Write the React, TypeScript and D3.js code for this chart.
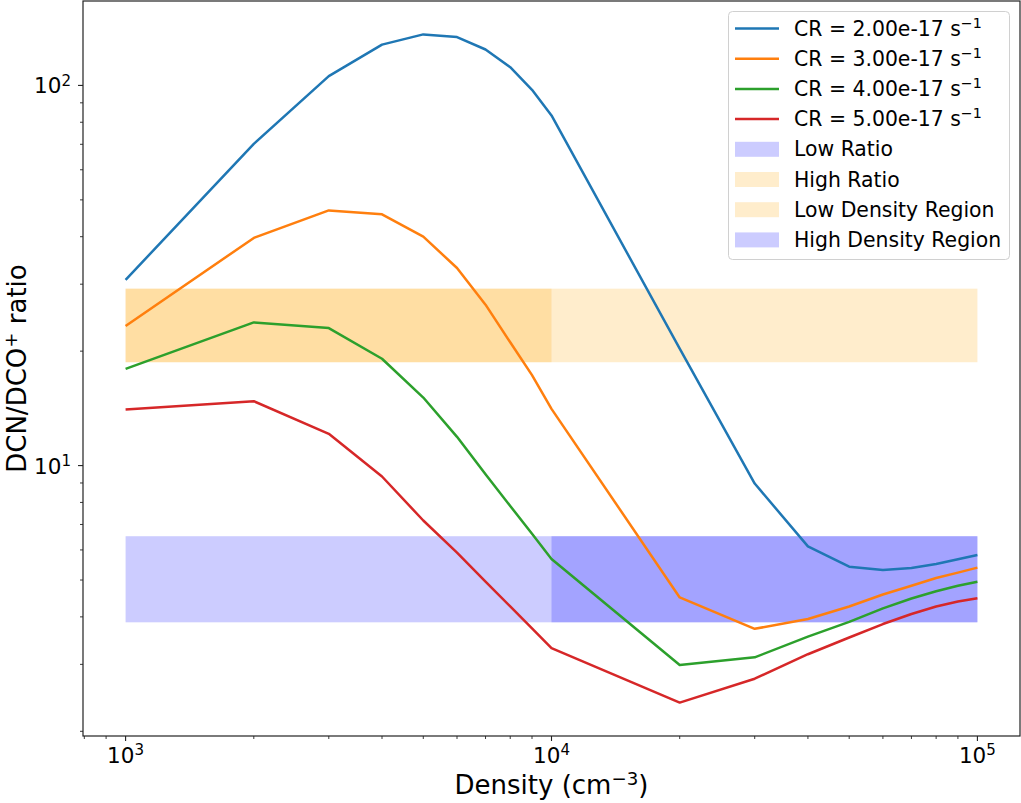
import React, { useEffect, useRef } from "react";
import * as d3 from "d3";

// densities (cm^-3)
const densities = [
  1000, 2000, 3000, 4000, 5000, 6000, 7000, 8000, 9000,
  10000, 20000, 30000, 40000, 50000, 60000, 70000, 80000, 90000, 100000,
];

const cr2 = [30.8, 70.2, 105.8, 128, 136.2, 134, 124.3, 111.7, 97.4, 83.4, 20.3, 8.97, 6.13, 5.42, 5.31, 5.38, 5.51, 5.67, 5.82];
const cr3 = [23.3, 39.7, 46.9, 45.8, 40.0, 33.1, 26.5, 21.1, 17.3, 14.1, 4.5, 3.72, 3.95, 4.26, 4.58, 4.83, 5.06, 5.23, 5.39];
const cr4 = [17.97, 23.8, 23.0, 19.1, 15.1, 11.9, 9.49, 7.83, 6.62, 5.68, 2.99, 3.13, 3.55, 3.88, 4.21, 4.47, 4.67, 4.83, 4.95];
const cr5 = [14.04, 14.77, 12.12, 9.36, 7.17, 5.9, 4.95, 4.26, 3.73, 3.31, 2.38, 2.75, 3.19, 3.53, 3.83, 4.07, 4.26, 4.39, 4.48];

const seriesLabels = ["2.00e-17", "3.00e-17", "4.00e-17", "5.00e-17"];
const seriesValues = [cr2, cr3, cr4, cr5];
const seriesColors = ["#1f77b4", "#ff7f0e", "#2ca02c", "#d62728"];

// ratio bands
const lowRatio = [3.87, 6.52];
const highRatio = [18.7, 29.2];
const lowDensityRange = [1000, 10000];
const highDensityRange = [10000, 100000];

const bandLabels = ["Low Ratio", "High Ratio", "Low Density Region", "High Density Region"];
const bandColors = ["blue", "orange", "orange", "blue"];

const W = 1021;
const H = 803;
const FONT = "DejaVu Sans, sans-serif";

const App: React.FC = () => {
  const svgRef = useRef<SVGSVGElement | null>(null);

  useEffect(() => {
    if (!svgRef.current) return;
    const svg = d3.select(svgRef.current);
    svg.selectAll("*").remove();

    const plot = { left: 83, right: 1020, top: 1, bottom: 736 };

    // matplotlib style 5% margins, in log space
    const pad = (lo: number, hi: number) => {
      const a = Math.log10(lo);
      const b = Math.log10(hi);
      const m = (b - a) * 0.05;
      return [Math.pow(10, a - m), Math.pow(10, b + m)];
    };
    const allVals = seriesValues.flat();
    const x = d3
      .scaleLog()
      .domain(pad(d3.min(densities)!, d3.max(densities)!))
      .range([plot.left, plot.right]);
    const y = d3
      .scaleLog()
      .domain(pad(d3.min(allVals)!, d3.max(allVals)!))
      .range([plot.bottom, plot.top]);

    const g = svg.append("g");

    // bands (drawn under the lines)
    const drawBand = (xr: number[], yr: number[], color: string) => {
      g.append("rect")
        .attr("x", x(xr[0]))
        .attr("y", y(yr[1]))
        .attr("width", x(xr[1]) - x(xr[0]))
        .attr("height", y(yr[0]) - y(yr[1]))
        .attr("fill", color)
        .attr("fill-opacity", 0.2);
    };
    const fullRange = [densities[0], densities[densities.length - 1]];
    drawBand(fullRange, lowRatio, "blue");
    drawBand(fullRange, highRatio, "orange");
    drawBand(lowDensityRange, highRatio, "orange");
    drawBand(highDensityRange, lowRatio, "blue");

    // lines
    const line = d3
      .line<number>()
      .x((_, i) => x(densities[i]))
      .y((d) => y(d));
    seriesValues.forEach((vals, i) => {
      g.append("path")
        .datum(vals)
        .attr("d", line)
        .attr("fill", "none")
        .attr("stroke", seriesColors[i])
        .attr("stroke-width", 2.5)
        .attr("stroke-linejoin", "round");
    });

    // spines
    g.append("rect")
      .attr("x", plot.left)
      .attr("y", plot.top)
      .attr("width", plot.right - plot.left)
      .attr("height", plot.bottom - plot.top)
      .attr("fill", "none")
      .attr("stroke", "#222")
      .attr("stroke-width", 1.2);

    const tickFs = 21.5;
    const supText = (sel: d3.Selection<SVGTextElement, unknown, null, undefined>, base: string, exp: string, fs: number) => {
      sel.append("tspan").text(base);
      sel
        .append("tspan")
        .attr("font-size", fs * 0.7)
        .attr("dy", -fs * 0.36)
        .text(exp);
    };

    // x ticks
    const xTicks = x.ticks();
    xTicks.forEach((t) => {
      const px = x(t);
      if (px < plot.left - 0.5 || px > plot.right + 0.5) return;
      const major = Math.abs(Math.log10(t) - Math.round(Math.log10(t))) < 1e-9;
      g.append("line")
        .attr("x1", px)
        .attr("x2", px)
        .attr("y1", plot.bottom)
        .attr("y2", plot.bottom + (major ? 5 : 3))
        .attr("stroke", "#222")
        .attr("stroke-width", major ? 1.1 : 0.9);
      if (major) {
        const txt = g
          .append("text")
          .attr("x", px)
          .attr("y", 763)
          .attr("text-anchor", "middle")
          .attr("font-family", FONT)
          .attr("font-size", tickFs)
          .attr("fill", "#000");
        supText(txt, "10", String(Math.round(Math.log10(t))), tickFs);
      }
    });

    // y ticks
    const yTicks = y.ticks();
    yTicks.forEach((t) => {
      const py = y(t);
      if (py < plot.top - 0.5 || py > plot.bottom + 0.5) return;
      const major = Math.abs(Math.log10(t) - Math.round(Math.log10(t))) < 1e-9;
      g.append("line")
        .attr("x1", plot.left)
        .attr("x2", plot.left - (major ? 5 : 3))
        .attr("y1", py)
        .attr("y2", py)
        .attr("stroke", "#222")
        .attr("stroke-width", major ? 1.1 : 0.9);
      if (major) {
        const txt = g
          .append("text")
          .attr("x", 71)
          .attr("y", py + 8)
          .attr("text-anchor", "end")
          .attr("font-family", FONT)
          .attr("font-size", tickFs)
          .attr("fill", "#000");
        supText(txt, "10", String(Math.round(Math.log10(t))), tickFs);
      }
    });

    // axis labels
    const labelFs = 26;
    const xl = g
      .append("text")
      .attr("x", (plot.left + plot.right) / 2)
      .attr("y", 794)
      .attr("text-anchor", "middle")
      .attr("font-family", FONT)
      .attr("font-size", labelFs);
    xl.append("tspan").text("Density (cm");
    xl.append("tspan").attr("font-size", labelFs * 0.7).attr("dy", -labelFs * 0.36).text("\u22123");
    xl.append("tspan").attr("dy", labelFs * 0.36).text(")");

    const yl = g
      .append("text")
      .attr("transform", `translate(25.5, ${(plot.top + plot.bottom) / 2}) rotate(-90)`)
      .attr("text-anchor", "middle")
      .attr("font-family", FONT)
      .attr("font-size", labelFs);
    yl.append("tspan").text("DCN/DCO");
    yl.append("tspan").attr("font-size", labelFs * 0.7).attr("dy", -labelFs * 0.33).text("+");
    yl.append("tspan").attr("dy", labelFs * 0.33).text(" ratio");

    // legend
    const leg = g.append("g");
    leg.append("rect")
      .attr("x", 728.5)
      .attr("y", 11.5)
      .attr("width", 281)
      .attr("height", 248)
      .attr("rx", 4)
      .attr("fill", "#fff")
      .attr("fill-opacity", 0.8)
      .attr("stroke", "#d0d0d0")
      .attr("stroke-width", 1);

    const legFs = 20.4;
    const rowY = (i: number) => 28.5 + i * 30.2;
    const legendText = (i: number) =>
      leg
        .append("text")
        .attr("x", 794)
        .attr("y", rowY(i) + 7)
        .attr("font-family", FONT)
        .attr("font-size", legFs)
        .attr("fill", "#000");

    seriesLabels.forEach((lab, i) => {
      leg.append("line")
        .attr("x1", 735)
        .attr("x2", 779)
        .attr("y1", rowY(i))
        .attr("y2", rowY(i))
        .attr("stroke", seriesColors[i])
        .attr("stroke-width", 2.5);
      const t = legendText(i);
      t.append("tspan").text(`CR = ${lab} s`);
      t.append("tspan").attr("font-size", legFs * 0.7).attr("dy", -legFs * 0.38).text("\u22121");
    });
    bandLabels.forEach((lab, j) => {
      const i = j + seriesLabels.length;
      leg.append("rect")
        .attr("x", 735)
        .attr("y", rowY(i) - 7.5)
        .attr("width", 44)
        .attr("height", 15)
        .attr("fill", bandColors[j])
        .attr("fill-opacity", 0.2);
      legendText(i).text(lab);
    });
  }, []);

  return (
    <svg
      ref={svgRef}
      width={W}
      height={H}
      style={{ position: "absolute", left: 0, top: 0, background: "#fff", display: "block" }}
    ></svg>
  );
};

export default App;
